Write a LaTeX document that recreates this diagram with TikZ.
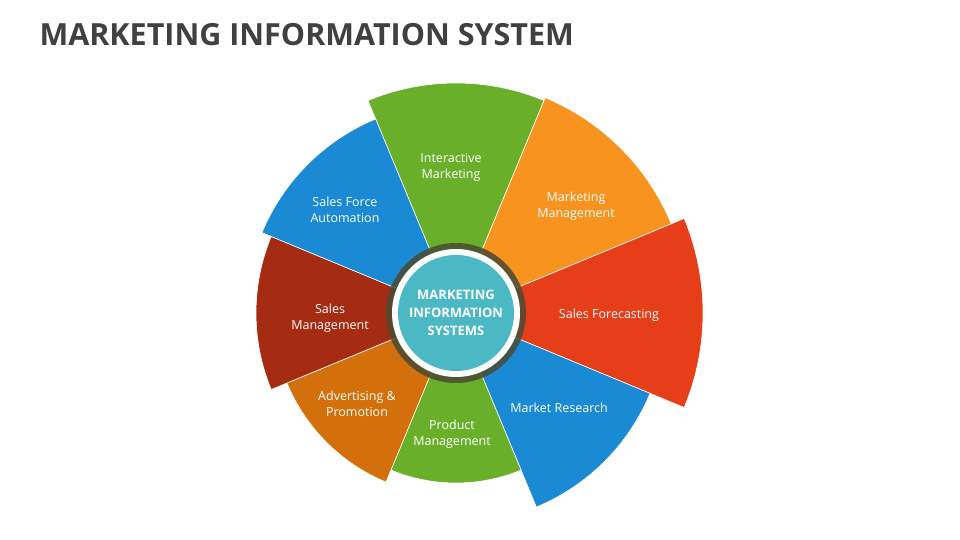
\documentclass[tikz,border=0pt]{standalone}
\usepackage{fontspec}
\setmainfont{Open Sans}
\definecolor{cgreen}{HTML}{6AAF2A}
\definecolor{corange}{HTML}{F7931E}
\definecolor{cred}{HTML}{E63E19}
\definecolor{cblue}{HTML}{1B8AD4}
\definecolor{cdorange}{HTML}{D3700B}
\definecolor{cdred}{HTML}{A52B13}
\definecolor{cteal}{HTML}{4BB9C3}
\definecolor{cring}{HTML}{4A4A32}
\definecolor{ctitle}{HTML}{404040}
\tikzset{lab/.style={text=white,font=\fontsize{12.5}{16}\selectfont,align=center}}
\newcommand{\sect}[4]{\fill[#1,draw=white,line width=0.6pt] (456,227) -- ++(#2:#4) arc[start angle=#2,end angle=#3,radius=#4] -- cycle;}
\begin{document}
\begin{tikzpicture}[x=1pt,y=1pt]
\useasboundingbox (0,0) rectangle (960,540);
\node[anchor=west,text=ctitle,font=\fontsize{30.5}{34}\selectfont\bfseries] (title) at (36,505) {MARKETING INFORMATION SYSTEM};
\sect{cgreen}{67.5}{112.5}{230}
\sect{corange}{22.5}{67.5}{233}
\sect{cred}{-22.5}{22.5}{247}
\sect{cblue}{-67.5}{-22.5}{210}
\sect{cgreen}{-112.5}{-67.5}{170}
\sect{cdorange}{-157.5}{-112.5}{183}
\sect{cdred}{157.5}{202.5}{200}
\sect{cblue}{112.5}{157.5}{210}
\fill[cring,opacity=0.85] (456,227) circle[radius=70];
\fill[white] (456,227) circle[radius=64];
\node[circle,fill=cteal,minimum size=116pt,inner sep=0pt,text=white,font=\fontsize{13}{18}\selectfont\bfseries,align=center] (hub) at (456,227) {MARKETING\\INFORMATION\\SYSTEMS};
\node[lab] (n1) at (451,373) {Interactive\\Marketing};
\node[lab] (n2) at (576,334) {Marketing\\Management};
\node[lab] (n3) at (609,225) {Sales Forecasting};
\node[lab] (n4) at (559,132) {Market Research};
\node[lab] (n5) at (452,106) {Product\\Management};
\node[lab] (n6) at (357,136) {Advertising \&\\Promotion};
\node[lab] (n7) at (330,222) {Sales\\Management};
\node[lab] (n8) at (345,330) {Sales Force\\Automation};
\end{tikzpicture}
\end{document}
